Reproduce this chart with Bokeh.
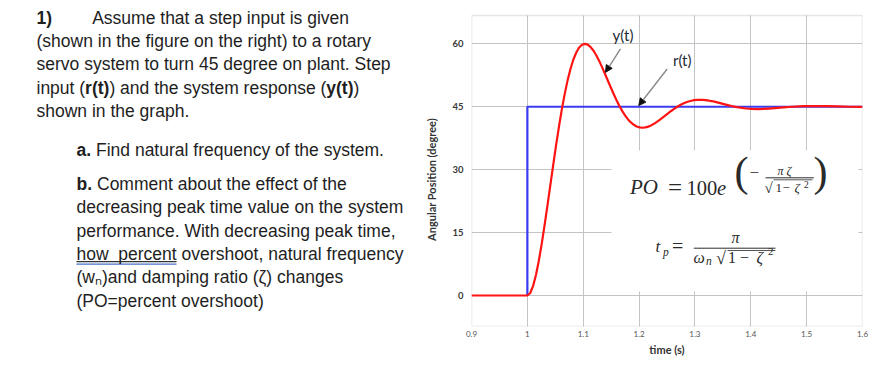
import math
from bokeh.plotting import figure
from bokeh.layouts import row
from bokeh.models import Label, Arrow, NormalHead, BoxAnnotation, FixedTicker, Range1d
from bokeh.embed import file_html
from bokeh.resources import INLINE

# ---------------- data ----------------
input_t = [1.0, 1.0, 1.6]
input_deg = [0, 45, 45]

resp_t = [0.9, 1.0, 1.0052, 1.0103, 1.0155, 1.0206, 1.0258, 1.0309, 1.0361, 1.0412, 1.0464,
          1.0515, 1.0567, 1.0618, 1.0670, 1.0721, 1.0773, 1.0824, 1.0876, 1.0927, 1.0979,
          1.1030, 1.1082, 1.1133, 1.1185, 1.1236, 1.1288, 1.1339, 1.1391, 1.1442, 1.1494,
          1.1545, 1.1597, 1.1648, 1.1700, 1.1751, 1.1803, 1.1854, 1.1906, 1.1957, 1.2009,
          1.2060, 1.2112, 1.2163, 1.2215, 1.2266, 1.2318, 1.2369, 1.2421, 1.2472, 1.2524,
          1.2575, 1.2627, 1.2678, 1.2730, 1.2781, 1.2833, 1.2884, 1.2936, 1.2987, 1.3039,
          1.3090, 1.3142, 1.3193, 1.3245, 1.3296, 1.3348, 1.3399, 1.3451, 1.3502, 1.3554,
          1.3605, 1.3657, 1.3708, 1.3811, 1.3914, 1.4017, 1.4120, 1.4223, 1.4326, 1.4429,
          1.4532, 1.4738, 1.4944, 1.5150, 1.5356, 1.5562, 1.5768, 1.5974, 1.6]
resp_deg = [0, 0, 0.60, 2.30, 4.94, 8.35, 12.37, 16.82, 21.54, 26.39, 31.22,
            35.91, 40.35, 44.44, 48.13, 51.35, 54.07, 56.27, 57.94, 59.11, 59.78,
            60.00, 59.80, 59.23, 58.35, 57.21, 55.87, 54.39, 52.82, 51.20, 49.59,
            48.03, 46.55, 45.19, 43.96, 42.88, 41.98, 41.25, 40.69, 40.30, 40.08,
            40.00, 40.07, 40.26, 40.55, 40.93, 41.38, 41.87, 42.40, 42.93, 43.47,
            43.99, 44.48, 44.94, 45.35, 45.70, 46.01, 46.25, 46.44, 46.57, 46.64,
            46.67, 46.64, 46.58, 46.48, 46.36, 46.21, 46.04, 45.87, 45.69, 45.51,
            45.34, 45.17, 45.02, 44.77, 44.58, 44.48, 44.45, 44.47, 44.55, 44.65,
            44.77, 45.00, 45.14, 45.18, 45.15, 45.08, 45.00, 44.95, 44.95]

x_ticks = [0.9, 1.0, 1.1, 1.2, 1.3, 1.4, 1.5, 1.6]
x_tick_labels = ["0.9", "1", "1.1", "1.2", "1.3", "1.4", "1.5", "1.6"]
y_ticks = [0, 15, 30, 45, 60]
y_tick_labels = ["0", "15", "30", "45", "60"]
y_min, y_max = -7.39, 66.75          # visible axis box
y_pad_top = 70.33                    # frame top (white band above the box)

# shared frame geometry (page pixels)
H = 368
BOTTOM = 326
# distance (in em) from the 'middle' anchor down to the alphabetic baseline
MID = {"Liberation Sans": 0.3465, "Liberation Serif": 0.3375, "Lato": 0.387}

# ---------------- left: question text ----------------
LW = 440
q = figure(width=LW, height=H, output_backend="svg", toolbar_location=None,
           x_range=Range1d(0, LW), y_range=Range1d(BOTTOM, 0),
           x_axis_location=None, y_axis_location=None,
           min_border_left=0, min_border_right=0, min_border_top=0,
           min_border_bottom=H - BOTTOM,
           background_fill_color="white", border_fill_color="white")
q.grid.visible = False
q.outline_line_color = None

S = 17.5
BODY = "Liberation Sans"
TC = "#1e1e1e"


def qt(s, px, base, style="normal"):
    q.add_layout(Label(x=px, y=base - MID[BODY] * S, text=s, text_font=BODY,
                       text_font_size=f"{S}px", text_font_style=style, text_color=TC,
                       text_baseline="middle"))


qt("1)", 36, 23.3, "bold")
qt("Assume that a step input is given", 91.7, 23.3)
qt("(shown in the figure on the right) to a rotary", 36, 46.7)
qt("servo system to turn 45 degree on plant. Step", 36, 70)
qt("input (", 36, 93.3)
qt("r(t)", 84.6, 93.3, "bold")
qt(") and the system response (", 108.9, 93.3)
qt("y(t)", 325.8, 93.3, "bold")
qt(")", 353, 93.3)
qt("shown in the graph.", 36, 116.7)

qt("a.", 76, 156, "bold")
qt("Find natural frequency of the system.", 95.5, 156)
qt("b.", 76, 189.7, "bold")
qt("Comment about the effect of the", 96.5, 189.7)
qt("decreasing peak time value on the system", 76, 213)
qt("performance. With decreasing peak time,", 76, 236.3)
qt("how", 76, 259.7)
qt("percent", 117.8, 259.7)
qt("overshoot, natural frequency", 181.1, 259.7)
qt("(w\u2099)and damping ratio (\u03b6) changes", 76, 283)
qt("(PO=percent overshoot)", 76, 306.3)
q.segment(x0=[76], y0=[261.2], x1=[176], y1=[261.2], line_color="#333333", line_width=1.2)
q.segment(x0=[76], y0=[263.6], x1=[176], y1=[263.6], line_color="#4472c4", line_width=1.2)

# y-axis title of the chart (sits just left of the chart's tick labels)
q.add_layout(Label(x=430.5, y=179, text="Angular Position (degree)", angle=math.pi / 2,
                   text_font="Lato", text_font_style="bold", text_font_size="11px",
                   text_color="#333333", text_align="center", text_baseline="middle"))

# ---------------- right: chart ----------------
p = figure(width=430, height=H, output_backend="svg", toolbar_location=None,
           x_range=Range1d(0.9, 1.6), y_range=Range1d(y_min, y_pad_top),
           min_border_left=31, min_border_right=8, min_border_top=0,
           min_border_bottom=H - BOTTOM,
           background_fill_color="white", border_fill_color="white")

p.outline_line_color = None

for ax in (p.xaxis, p.yaxis):
    ax.axis_line_color = None
    ax.major_tick_line_color = None
    ax.minor_tick_line_color = None
    ax.major_tick_out = 0
    ax.major_tick_in = 0
    ax.minor_tick_out = 0

p.xaxis.ticker = FixedTicker(ticks=x_ticks)
p.xaxis.major_label_overrides = dict(zip(x_ticks, x_tick_labels))
p.xaxis.major_label_text_font = "Lato"
p.xaxis.major_label_text_font_size = "8px"
p.xaxis.major_label_text_color = "#555555"
p.xaxis.major_label_standoff = 4
p.xaxis.axis_label = "time (s)"
p.xaxis.axis_label_text_font = "Lato"
p.xaxis.axis_label_text_font_style = "bold"
p.xaxis.axis_label_text_font_size = "11px"
p.xaxis.axis_label_text_color = "#333333"
p.xaxis.axis_label_standoff = 3

p.yaxis.ticker = FixedTicker(ticks=y_ticks)
p.yaxis.major_label_overrides = dict(zip(y_ticks, y_tick_labels))
p.yaxis.major_label_text_font = "Lato"
p.yaxis.major_label_text_font_style = "bold"
p.yaxis.major_label_text_font_size = "9.5px"
p.yaxis.major_label_text_color = "#3a3a3a"
p.yaxis.major_label_standoff = 8

p.xgrid.ticker = FixedTicker(ticks=x_ticks)
p.ygrid.ticker = FixedTicker(ticks=y_ticks)
p.grid.grid_line_color = "#c4c4c4"
p.grid.grid_line_width = 1

p.line(input_t, input_deg, line_color="#3b3bf0", line_width=2.2)
p.line(resp_t, resp_deg, line_color="#ff1414", line_width=2.2, line_join="round")

# white band above the axis box, and the box outline itself
p.add_layout(BoxAnnotation(bottom=y_max, fill_color="white", fill_alpha=1.0, line_color=None))
p.add_layout(BoxAnnotation(left=0.9, right=1.6, bottom=y_min, top=y_max, fill_alpha=0.0,
                           line_color="#a8a8a8", line_width=1.5))

# white panel behind the formulas
p.add_layout(BoxAnnotation(left=1.1506, right=1.5928, bottom=0.95, top=34.56,
                           fill_color="white", fill_alpha=1.0, line_color=None))

# annotation arrows
p.add_layout(Arrow(end=NormalHead(size=7, fill_color="#111111", line_color="#111111"),
                   x_start=1.1667, y_start=58.8, x_end=1.1399, y_end=53.2,
                   line_color="#8a8a8a", line_width=1.4))
p.add_layout(Arrow(end=NormalHead(size=7, fill_color="#111111", line_color="#111111"),
                   x_start=1.2503, y_start=54.0, x_end=1.1995, y_end=45.3,
                   line_color="#8a8a8a", line_width=1.4))

FL, FB = 471, BOTTOM  # page coords of the chart frame's left / bottom


def txt(s, px, base, size, font="Liberation Sans", style="normal", color="#1e1e1e",
        align="left"):
    yc = base - MID[font] * size
    p.add_layout(Label(x=px - FL, y=FB - yc, x_units="screen", y_units="screen", text=s,
                       text_font=font, text_font_size=f"{size}px", text_font_style=style,
                       text_color=color, text_align=align, text_baseline="middle"))


def hline(px0, px1, py, color="#222222", width=1.0):
    p.add_layout(Arrow(end=None, start=None, x_start=px0 - FL, y_start=FB - py,
                       x_end=px1 - FL, y_end=FB - py, start_units="screen", end_units="screen",
                       line_color=color, line_width=width))


txt("y(t)", 622.5, 40.5, 15, font="Lato", color="#1e2a36", align="center")
txt("r(t)", 681.7, 65.5, 15, font="Lato", color="#1e2a36", align="center")

# ---------------- formulas ----------------
SERIF = "Liberation Serif"
FC = "#2a2a2a"
# PO = 100 e^( - pi zeta / sqrt(1 - zeta^2) )
txt("PO", 629.5, 194, 21, SERIF, "italic", FC)
txt("=", 667.5, 195.3, 25, SERIF, "normal", FC)
txt("100", 686, 194, 20.5, SERIF, "normal", FC)
txt("e", 716.5, 194, 20.5, SERIF, "italic", FC)
txt("(", 734, 186, 42, SERIF, "normal", FC)
txt("\u2212", 749, 177.5, 17, SERIF, "normal", FC)
txt("\u03c0", 777, 175, 12, SERIF, "italic", FC)
txt("\u03b6", 786, 175, 12, SERIF, "italic", FC)
hline(765, 813.3, 177.3, FC, 1)
txt("\u221a", 764, 193, 15, SERIF, "normal", FC)
hline(773, 812, 179.3, FC, 0.8)
txt("1", 775, 191.7, 13, SERIF, "normal", FC)
txt("\u2212", 782, 191.7, 13, SERIF, "normal", FC)
txt("\u03b6", 794, 191.7, 13, SERIF, "italic", FC)
txt("2", 803.5, 187, 9.5, SERIF, "normal", FC)
txt(")", 813, 186, 42, SERIF, "normal", FC)

# t_p = pi / (omega_n sqrt(1 - zeta^2))
txt("t", 655, 251.7, 17, SERIF, "italic", FC)
txt("p", 662.5, 255, 11.5, SERIF, "italic", FC)
txt("=", 671.5, 252.3, 20, SERIF, "normal", FC)
hline(693.3, 775, 247.7, FC, 1)
txt("\u03c0", 735, 242.3, 16, SERIF, "italic", FC, align="center")
txt("\u03c9", 693, 262.3, 16, SERIF, "italic", FC)
txt("n", 705.5, 264.5, 11.5, SERIF, "italic", FC)
txt("\u221a", 715.5, 264, 18, SERIF, "normal", FC)
hline(727, 775, 250, FC, 0.8)
txt("1", 727.5, 262.3, 16, SERIF, "normal", FC)
txt("\u2212", 739.5, 262.3, 16, SERIF, "normal", FC)
txt("\u03b6", 756, 262.3, 16, SERIF, "italic", FC)
txt("2", 767.5, 254.5, 11, SERIF, "normal", FC)

layout = row(q, p, spacing=0)
open("out.html", "w").write(file_html(layout, INLINE))
